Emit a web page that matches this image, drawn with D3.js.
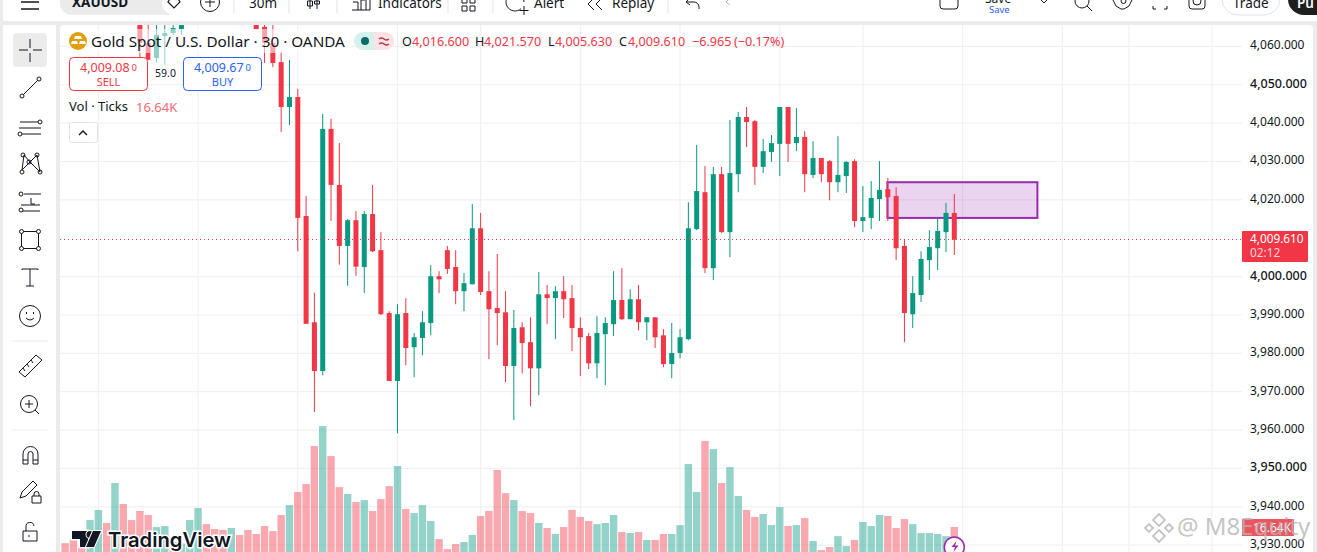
<!DOCTYPE html>
<html>
<head>
<meta charset="utf-8">
<title>XAUUSD 30m</title>
<script src="https://cdn.jsdelivr.net/npm/d3@7"></script>
<style>
    html, body { margin: 0; padding: 0; background: #fff; overflow: hidden; }
    svg { display: block; }
    text { font-family: "Noto Sans", sans-serif; }
</style>
</head>
<body>
<svg id="chart" width="1317" height="552"></svg>
<script>
// Candles, index 0 is the left edge of the chart. null = candle sits above the visible pane.
const opens = [
    null, null, null, null, null, null, null, null, null, 4067.0,
    4060.9, 4057.0, 4062.7, 4063.5, 4064.5, null, null, null, null, null,
    null, null, null, 4067.0, 4065.1, 4060.9, 4055.9, 4044.2, 4046.8, 4015.8,
    3988.1, 3975.4, 4038.5, 4023.9, 4008.0, 4014.7, 4002.5, 4016.3, 4006.9, 3990.5,
    3972.8, 3990.5, 3981.6, 3984.0, 3987.9, 4000.1, 4006.9, 4002.5, 3996.2, 3998.0,
    4012.6, 3996.2, 3991.8, 3990.7, 3976.7, 3986.8, 3982.9, 3976.1, 3995.4, 3994.4,
    3996.2, 3994.4, 3986.6, 3984.5, 3977.4, 3985.0, 3987.6, 3993.9, 3988.9, 3994.1,
    3988.1, 3989.4, 3984.7, 3977.2, 3980.1, 3983.7, 4012.4, 4022.0, 4002.2, 4026.7,
    4011.6, 4026.7, 4041.6, 4040.5, 4028.6, 4032.5, 4034.6, 4044.2, 4034.8, 4036.4,
    4026.5, 4030.9, 4030.1, 4024.6, 4026.2, 4030.1, 4014.5, 4015.3, 4020.2, 4022.8,
    4021.0, 4008.0, 3990.2, 3995.2, 4004.3, 4007.4, 4011.6, 4016.6
];
const highs = [
    null, null, null, null, null, null, null, null, null, 4068.0,
    4067.0, 4067.0, 4066.0, 4066.0, 4067.0, null, null, null, null, null,
    null, null, null, 4068.0, 4067.0, 4067.0, 4058.5, 4056.5, 4048.9, 4021.0,
    3995.8, 4042.4, 4041.1, 4034.8, 4015.0, 4017.1, 4017.1, 4023.9, 4011.6, 3991.0,
    3992.8, 3994.4, 3985.3, 3991.0, 4003.0, 4001.4, 4008.0, 4006.9, 4000.9, 4018.9,
    4016.6, 4001.4, 4005.9, 3996.2, 3991.3, 3988.1, 3989.4, 4001.2, 3997.8, 3997.5,
    4000.1, 3997.8, 3989.4, 3985.3, 3989.7, 3989.4, 4001.4, 4002.2, 3996.7, 3997.8,
    3989.4, 3989.4, 3986.3, 3987.9, 3986.3, 4019.4, 4034.3, 4028.8, 4028.6, 4028.6,
    4040.8, 4042.9, 4044.2, 4040.8, 4035.9, 4036.9, 4044.2, 4044.2, 4043.9, 4037.9,
    4035.3, 4030.9, 4030.4, 4036.6, 4030.1, 4030.6, 4023.6, 4024.9, 4030.1, 4025.7,
    4023.3, 4009.8, 4000.1, 4006.6, 4012.1, 4015.3, 4019.2, 4021.57
];
const lows = [
    null, null, null, null, null, null, null, null, null, 4057.2,
    4056.5, 4055.7, 4055.2, 4063.0, 4063.0, null, null, null, null, null,
    null, null, null, 4064.5, 4055.7, 4054.6, 4037.7, 4039.5, 4006.6, 3987.7,
    3964.7, 3974.3, 4014.5, 4003.1, 3997.6, 4000.2, 3995.7, 4006.4, 3990.0, 3972.8,
    3959.2, 3976.9, 3973.8, 3979.5, 3984.7, 3995.7, 4000.7, 3992.8, 3991.0, 3998.0,
    3995.2, 3978.5, 3982.1, 3972.5, 3962.6, 3974.8, 3966.2, 3969.1, 3987.6, 3983.7,
    3989.2, 3980.6, 3974.1, 3975.9, 3973.5, 3971.7, 3984.5, 3988.7, 3988.9, 3986.0,
    3983.4, 3981.4, 3976.4, 3973.5, 3978.7, 3983.4, 4012.1, 4000.9, 3999.1, 4011.3,
    4005.1, 4022.0, 4033.8, 4023.9, 4027.0, 4029.9, 4026.2, 4029.9, 4032.7, 4022.0,
    4025.7, 4024.6, 4019.9, 4022.0, 4021.8, 4012.9, 4011.6, 4012.4, 4014.5, 4014.5,
    4004.3, 3982.9, 3986.6, 3993.4, 3999.1, 4001.7, 4006.4, 4005.63
];
const closes = [
    null, null, null, null, null, null, null, null, null, 4060.9,
    4056.5, 4063.0, 4063.5, 4064.8, 4066.0, null, null, null, null, null,
    null, null, null, 4064.5, 4060.9, 4055.7, 4044.2, 4046.8, 4015.3, 3987.7,
    3975.4, 4038.5, 4023.9, 4008.0, 4014.7, 4002.6, 4016.3, 4006.6, 3990.2, 3972.8,
    3990.2, 3981.4, 3984.2, 3988.1, 4000.1, 3999.3, 4002.0, 3996.2, 3998.3, 4012.6,
    3996.0, 3991.5, 3990.5, 3976.7, 3986.6, 3982.7, 3976.1, 3995.4, 3994.4, 3996.2,
    3994.1, 3986.6, 3984.2, 3977.4, 3985.3, 3987.9, 3993.9, 3988.9, 3994.1, 3988.1,
    3989.4, 3984.2, 3977.2, 3980.1, 3984.2, 4012.6, 4022.3, 4002.2, 4026.7, 4011.6,
    4027.0, 4041.6, 4040.3, 4028.6, 4032.7, 4034.8, 4044.2, 4034.6, 4036.4, 4026.7,
    4030.9, 4026.7, 4024.6, 4026.5, 4029.9, 4014.5, 4015.5, 4020.5, 4022.6, 4020.7,
    4007.4, 3990.5, 3995.7, 4004.6, 4007.7, 4011.9, 4016.6, 4009.61
];

// Volume in thousands of ticks, and whether the bar is up (1) or down (0)
const volumes = [
    6.7, 9.2, 4.5, 20.9, 27.1, 19.1, 43.7, 30.8, 20.9, 26.5,
    24.0, 16.6, 17.2, 7.4, 6.5, 20.9, 28.3, 18.4, 15.4, 14.8,
    16.0, 11.7, 14.8, 12.3, 17.2, 14.1, 24.0, 30.1, 38.2, 43.1,
    66.5, 78.8, 60.3, 41.2, 36.9, 32.0, 33.2, 26.5, 33.8, 41.8,
    54.2, 27.7, 25.2, 30.1, 20.3, 9.2, 3.0, 6.1, 7.4, 11.7,
    23.4, 26.5, 51.7, 37.5, 33.2, 26.5, 25.2, 19.1, 16.0, 12.3,
    16.6, 27.1, 22.8, 20.3, 18.4, 19.1, 24.0, 13.5, 12.9, 13.5,
    8.6, 8.6, 12.3, 12.3, 17.8, 55.4, 38.2, 69.6, 64.6, 43.7,
    53.5, 35.7, 27.1, 22.8, 24.6, 17.8, 28.9, 17.2, 17.8, 22.1,
    8.0, 2.4, 4.3, 11.0, 4.9, 8.6, 19.7, 17.2, 24.0, 23.4,
    16.0, 21.5, 18.4, 12.9, 12.9, 12.3, 11.0, 16.64
];
const volumeUp = [
    0, 0, 0, 1, 1, 0, 1, 0, 0, 0,
    0, 1, 1, 0, 1, 1, 1, 0, 0, 0,
    1, 0, 0, 0, 0, 0, 0, 1, 0, 0,
    0, 1, 0, 0, 1, 0, 1, 0, 0, 0,
    1, 0, 1, 1, 1, 0, 0, 0, 1, 1,
    0, 0, 0, 0, 1, 0, 0, 1, 0, 1,
    0, 0, 0, 0, 1, 1, 1, 0, 1, 0,
    1, 0, 0, 1, 1, 1, 1, 0, 1, 0,
    1, 1, 0, 0, 1, 1, 1, 0, 1, 0,
    1, 0, 0, 1, 1, 0, 1, 1, 1, 0,
    0, 0, 1, 1, 1, 1, 1, 0
];

const priceTicks = [4060, 4050, 4040, 4030, 4020, 4010, 4000, 3990, 3980, 3970, 3960, 3950, 3940, 3930];
const heavyTicks = [4050, 4000, 3950];
const timeGrid = [4, 16, 28, 40, 50, 62, 74, 86, 96, 108, 120, 128, 138];
const zoneIndex = [98.95, 117];
const zonePrice = [4024.6, 4015.3];
const lastPrice = 4009.61;

const TEAL = '#089981';
const RED = '#f23645';
const GRAY = '#ebebeb';
const INK = '#131722';
const PURPLE = '#9c27b0';

const svg = d3.select('#chart');

// Scales
const x = d3.scaleLinear().domain([0, 107]).range([65.1, 954.3]);
const y = d3.scaleLinear().domain([3930, 4060]).range([545.2, 46.4]);
const yVol = d3.scaleLinear().domain([0, 82.5]).range([554, 420]);

// Page frame
svg.append('rect').attr('width', 1317).attr('height', 552).attr('fill', GRAY);
svg.append('rect').attr('x', 3).attr('y', 0).attr('width', 1314).attr('height', 21).attr('fill', '#fff');
svg.append('rect').attr('x', 3).attr('y', 25).attr('width', 53).attr('height', 527).attr('fill', '#fff');
svg.append('rect').attr('x', 60).attr('y', 25).attr('width', 1253).attr('height', 540).attr('rx', 4).attr('fill', '#fff');

svg.append('defs').append('clipPath').attr('id', 'pane')
    .append('rect').attr('x', 60).attr('y', 25).attr('width', 1182).attr('height', 527);

// Grid
const pane = svg.append('g').attr('clip-path', 'url(#pane)');
pane.selectAll('.hgrid').data(priceTicks.filter(d => d !== 4010)).enter().append('line')
    .attr('class', 'hgrid')
    .attr('x1', 60).attr('x2', 1242)
    .attr('y1', d => y(d)).attr('y2', d => y(d))
    .attr('stroke', '#f0f1f3').attr('stroke-width', 1.2);
pane.selectAll('.vgrid').data(timeGrid).enter().append('line')
    .attr('class', 'vgrid')
    .attr('x1', d => x(d)).attr('x2', d => x(d))
    .attr('y1', 25).attr('y2', 552)
    .attr('stroke', '#f0f1f3').attr('stroke-width', 1.2);

// Volume bars
pane.selectAll('.vol').data(volumes).enter().append('rect')
    .attr('class', 'vol')
    .attr('x', (d, i) => x(i) - 3.7)
    .attr('width', 7.4)
    .attr('y', d => yVol(d))
    .attr('height', d => yVol(0) - yVol(d))
    .attr('fill', (d, i) => volumeUp[i] ? TEAL : RED)
    .attr('fill-opacity', 0.43);

// Purple rectangle drawing, sits under the candles
pane.append('rect')
    .attr('x', x(zoneIndex[0]))
    .attr('y', y(zonePrice[0]))
    .attr('width', x(zoneIndex[1]) - x(zoneIndex[0]))
    .attr('height', y(zonePrice[1]) - y(zonePrice[0]))
    .attr('fill', PURPLE).attr('fill-opacity', 0.2)
    .attr('stroke', PURPLE).attr('stroke-width', 2);

// Candles
const indexes = d3.range(opens.length).filter(i => opens[i] !== null);
const colorOf = i => closes[i] >= opens[i] ? TEAL : RED;
pane.selectAll('.wick').data(indexes).enter().append('line')
    .attr('class', 'wick')
    .attr('x1', i => x(i)).attr('x2', i => x(i))
    .attr('y1', i => y(highs[i])).attr('y2', i => y(lows[i]))
    .attr('stroke', colorOf).attr('stroke-width', 1);
pane.selectAll('.body').data(indexes).enter().append('rect')
    .attr('class', 'body')
    .attr('x', i => x(i) - 2.5)
    .attr('width', 5)
    .attr('y', i => y(Math.max(opens[i], closes[i])))
    .attr('height', i => Math.max(1, Math.abs(y(opens[i]) - y(closes[i]))))
    .attr('fill', colorOf);

// Last price line, snapped to a pixel row so the dots stay crisp
const lastY = Math.floor(y(lastPrice)) + 0.5;
pane.append('line')
    .attr('x1', 60).attr('x2', 1242)
    .attr('y1', lastY).attr('y2', lastY)
    .attr('stroke', RED).attr('stroke-width', 1).attr('stroke-dasharray', '1 3');

// Price axis
const axis = svg.append('g').attr('transform', 'translate(1250,0)')
    .call(d3.axisRight(y).tickValues(priceTicks).tickSize(0).tickPadding(0).tickFormat(d3.format(',.3f')));
axis.select('.domain').remove();
axis.selectAll('text')
    .attr('y', -1.5)
    .attr('fill', INK)
    .style('font-size', d => heavyTicks.includes(d) ? '12.5px' : '12px')
    .style('font-weight', d => heavyTicks.includes(d) ? 500 : 400);

// Last price tag
svg.append('rect').attr('x', 1242).attr('y', 231).attr('width', 66).attr('height', 31).attr('rx', 1).attr('fill', RED);
label(1250, 243, d3.format(',.3f')(lastPrice), 11.8, '#fff');
label(1250, 257, '02:12', 11.8, '#ffd5d8');

// Volume tag, mostly hidden by the watermark
svg.append('rect').attr('x', 1242).attr('y', 519).attr('width', 52).attr('height', 17).attr('fill', '#ee5560');
label(1253, 532, '16.64K', 12, '#fff');

function label(px, py, str, size, fill, weight, anchor) {
    return svg.append('text')
        .attr('x', px).attr('y', py)
        .attr('font-size', size)
        .attr('font-weight', weight || 400)
        .attr('text-anchor', anchor || 'start')
        .attr('fill', fill)
        .text(str);
}

function icon(d, width) {
    return svg.append('path').attr('d', d)
        .attr('fill', 'none').attr('stroke', INK).attr('stroke-width', width || 1);
}

// Legend wash over the candles
svg.append('rect').attr('x', 66).attr('y', 29).attr('width', 284).attr('height', 24).attr('fill', '#fff').attr('fill-opacity', 0.55);
svg.append('rect').attr('x', 150).attr('y', 53).attr('width', 32).attr('height', 13).attr('fill', '#fff').attr('fill-opacity', 0.55);

// Legend title
svg.append('circle').attr('cx', 78).attr('cy', 41).attr('r', 9).attr('fill', '#e09f0c');
svg.append('path').attr('d', 'M75 36h6l1 3h-8zM71 44l1-3h5l1 3zM79 44l1-3h5l1 3z').attr('fill', '#fff');
label(91, 47, 'Gold Spot / U.S. Dollar · 30 · OANDA', 15.3, INK);

// Market status pill
svg.append('path').attr('d', 'M374 32h-11a9 9 0 0 0 0 18h11z').attr('fill', '#d6f0ec');
svg.append('path').attr('d', 'M374 32h11a9 9 0 0 1 0 18h-11z').attr('fill', '#fde3e5');
svg.append('circle').attr('cx', 365).attr('cy', 41).attr('r', 4).attr('fill', '#0b6b66');
svg.append('path').attr('d', 'M379 39q2.500-2 5 0t5 0M379 44q2.500-2 5 0t5 0')
    .attr('fill', 'none').attr('stroke', '#c0394a').attr('stroke-width', 1.4);

// OHLC
const ohlc = [
    [402, 'O', INK], [412, '4,016.600', RED], [475, 'H', INK], [484, '4,021.570', RED],
    [548, 'L', INK], [555, '4,005.630', RED], [619, 'C', INK], [628, '4,009.610', RED],
    [692, '−6.965', RED], [734, '(−0.17%)', RED]
];
ohlc.forEach(d => label(d[0], 46, d[1], 12.6, d[2]));

// Sell and buy boxes
function tradeBox(px, color, price, digit, side) {
    svg.append('rect').attr('x', px).attr('y', 57.500).attr('width', 78).attr('height', 33)
        .attr('rx', 4).attr('fill', '#fff').attr('stroke', color);
    label(px + 10.5, 72, price, 12.5, color);
    label(px + 62, 71, digit, 9.5, color);
    label(px + 39, 85.500, side, 11, color, 400, 'middle');
}
tradeBox(69.5, RED, '4,009.08', '0', 'SELL');
tradeBox(183.5, '#2962ff', '4,009.67', '0', 'BUY');
label(165.500, 77, '59.0', 10.5, INK, 400, 'middle');

label(69, 111, 'Vol · Ticks', 13, INK);
label(136, 112, '16.64K', 13, '#f56a70');
svg.append('rect').attr('x', 69.500).attr('y', 122.500).attr('width', 28).attr('height', 20).attr('rx', 2)
    .attr('fill', '#fff').attr('stroke', '#e0e3eb');
icon('M79 135l4-4 4 4', 1.4);

// TradingView logo
svg.append('path').attr('d', 'M72 531h16v16h-8v-8h-8z').attr('fill', INK)
    .attr('stroke', '#fff').attr('stroke-width', 3).attr('paint-order', 'stroke');
svg.append('circle').attr('cx', 90).attr('cy', 534.500).attr('r', 3.500).attr('fill', INK)
    .attr('stroke', '#fff').attr('stroke-width', 2).attr('paint-order', 'stroke');
svg.append('path').attr('d', 'M93 531h8l-7 16h-8z').attr('fill', INK)
    .attr('stroke', '#fff').attr('stroke-width', 2).attr('paint-order', 'stroke');
label(108, 547, 'TradingView', 20.2, INK, 600)
    .style('font-family', 'Inter')
    .attr('stroke', '#fff').attr('stroke-width', 3).attr('paint-order', 'stroke');

// Alert badge on the last candle
svg.append('circle').attr('cx', x(107)).attr('cy', 547).attr('r', 10)
    .attr('fill', '#fff').attr('stroke', PURPLE).attr('stroke-width', 1.5);
svg.append('path').attr('d', 'M956.500 541l-5 6h3.500l-1.500 5 5-6.500h-3.500z').attr('fill', PURPLE);

// Watermark
const mark = svg.append('g').attr('fill', 'none').attr('stroke', '#c4c4c4').attr('stroke-width', 1.8);
mark.append('path').attr('d', 'M1159 514l6 6-6 6-6-6zM1149 524l4 4-4 4-4-4zM1169 524l4 4-4 4-4-4zM1159 530l6 6-6 6-6-6z');
svg.append('text').attr('x', 1177).attr('y', 535).attr('font-size', 24)
    .attr('fill', '#b5b5b5').attr('fill-opacity', 0.8).text('@ M8Equity');

// Top toolbar, cut off by the top of the picture
svg.append('path').attr('d', 'M60 -2h126v5a12 12 0 0 1-12 12h-102a12 12 0 0 1-12-12z').attr('fill', GRAY);
svg.append('circle').attr('cx', 174).attr('cy', 3).attr('r', 12).attr('fill', '#fff');
icon('M168 2l6 6 6-6-3-5h-6z', 1.2);
label(72, 7, 'XAUUSD', 13.500, INK, 700);
icon('M21 2h18M21 9h18', 1.6);
svg.append('circle').attr('cx', 210).attr('cy', 2).attr('r', 9.500).attr('fill', 'none').attr('stroke', INK);
icon('M205 2h10M210 -3v10');
label(249, 8, '30m', 13.500, INK);
icon('M310 0v9M317 0v9M307.500 1h5v5h-5zM314.500 1h5v3h-5z');
icon('M352 10h18v-14h-4v14M358 10v-8h-5M361 10v-10h4', 1);
label(378, 8, 'Indicators', 13.500, INK);
icon('M462 -2h5v5h-5zM470 -2h5v5h-5zM462 6h5v5h-5zM470 6h5v5h-5z');
[234, 289, 337, 448, 493, 668].forEach(d => {
    svg.append('line').attr('x1', d).attr('x2', d).attr('y1', 0).attr('y2', 13).attr('stroke', '#e0e3eb');
});
icon('M521 8.700A9 9 0 1 1 524 2M524 6v9M519.500 10.500h9');
label(534, 8, 'Alert', 13.500, INK);
icon('M594 -2l-6 6 6 6M602 -2l-6 6 6 6');
label(612, 8, 'Replay', 13.500, INK);
icon('M686 2l4-4M686 2l4 3M686 2h8a5 5 0 0 1 5 5v2');
svg.append('path').attr('d', 'M726 2l4-4M726 2l4 3').attr('fill', 'none').attr('stroke', '#b2b5be');
icon('M940 0v6a3 3 0 0 0 3 3h12a3 3 0 0 0 3-3v-6');
label(985, 3, 'Save', 12, INK);
label(989, 13, 'Save', 9.500, '#2962ff');
icon('M1040 -1l4 4 4-4');
svg.append('circle').attr('cx', 1082).attr('cy', 1).attr('r', 7).attr('fill', 'none').attr('stroke', INK);
icon('M1087 6l5 5');
icon('M1113 0l3 6 5 3h3l5-3 3-6M1121 1a2.500 2.500 0 1 0 5 0 2.500 2.500 0 1 0-5 0');
icon('M1153 6v3h3M1167 6v3h-3');
icon('M1189 0v6a3 3 0 0 0 3 3h10a3 3 0 0 0 3-3v-6M1193 1a4 4 0 1 0 8 0 4 4 0 1 0-8 0');
svg.append('rect').attr('x', 1222).attr('y', -18).attr('width', 58).attr('height', 33).attr('rx', 16)
    .attr('fill', '#fff').attr('stroke', '#e0e3eb');
label(1233, 8, 'Trade', 13.500, INK);
svg.append('rect').attr('x', 1288).attr('y', -18).attr('width', 60).attr('height', 33).attr('rx', 16).attr('fill', '#1e1e1e');
label(1297, 8, 'Pu', 13.500, '#fff', 600);

// Left toolbar
svg.append('rect').attr('x', 13).attr('y', 33).attr('width', 34).attr('height', 34).attr('rx', 4).attr('fill', GRAY);
icon('M30 39v9M30 53v9M19 50h9M33 50h9');
icon('M22 96l17-17');
svg.selectAll('.node').data([[22, 96], [39, 79], [20, 134], [40, 122], [22, 172], [37, 155], [23, 155], [40, 172], [29, 162]])
    .enter().append('circle')
    .attr('cx', d => d[0]).attr('cy', d => d[1]).attr('r', 2)
    .attr('fill', '#fff').attr('stroke', INK);
icon('M20 122h18M19 128h22M22 134h19');
icon('M22 170l2-15 6 7 7-7 3 17M30 162l-8 8M30 162l10 10');
icon('M24 194h17M21 205h19M21 211h19M31 198v6h4');
svg.selectAll('.node2').data([[21, 194], [21, 210]]).enter().append('circle')
    .attr('cx', d => d[0]).attr('cy', d => d[1]).attr('r', 2)
    .attr('fill', '#fff').attr('stroke', INK);
svg.append('rect').attr('x', 21.500).attr('y', 231.500).attr('width', 17).attr('height', 17).attr('fill', 'none').attr('stroke', INK);
svg.selectAll('.node3').data([[21.500, 231.500], [38.500, 231.500], [21.500, 248.500], [38.500, 248.500]]).enter().append('circle')
    .attr('cx', d => d[0]).attr('cy', d => d[1]).attr('r', 2)
    .attr('fill', '#fff').attr('stroke', INK);
icon('M22 270v-1h16v1M30 269v17M26 286h8');
svg.append('circle').attr('cx', 30).attr('cy', 316).attr('r', 10.500).attr('fill', 'none').attr('stroke', INK);
icon('M26 318q4 4 8 0M26.500 312v2M33.500 312v2');
[341, 430].forEach(d => {
    svg.append('line').attr('x1', 12).attr('x2', 48).attr('y1', d).attr('y2', d).attr('stroke', GRAY);
});
icon('M19 372l17-17 6 5-17 17zM23 368l2 3M27 364l2 3M31 360l2 3');
svg.append('circle').attr('cx', 29).attr('cy', 404).attr('r', 8.500).attr('fill', 'none').attr('stroke', INK);
icon('M25 404h8M29 400v8M35 410l4 4');
icon('M23 464v-10a7.500 7.500 0 0 1 15 0v10h-5v-10a2.500 2.500 0 0 0-5 0v10zM23 460h5M33 460h5');
icon('M20 498l2-6 11-11 4 4-11 11zM32 496h9v7h-9zM34 496v-2a2.500 2.500 0 0 1 5 0v2');
icon('M23 531h14v10h-14zM26 531v-4a4 4 0 0 1 8-1M29 535v2', 1);
</script>
</body>
</html>
